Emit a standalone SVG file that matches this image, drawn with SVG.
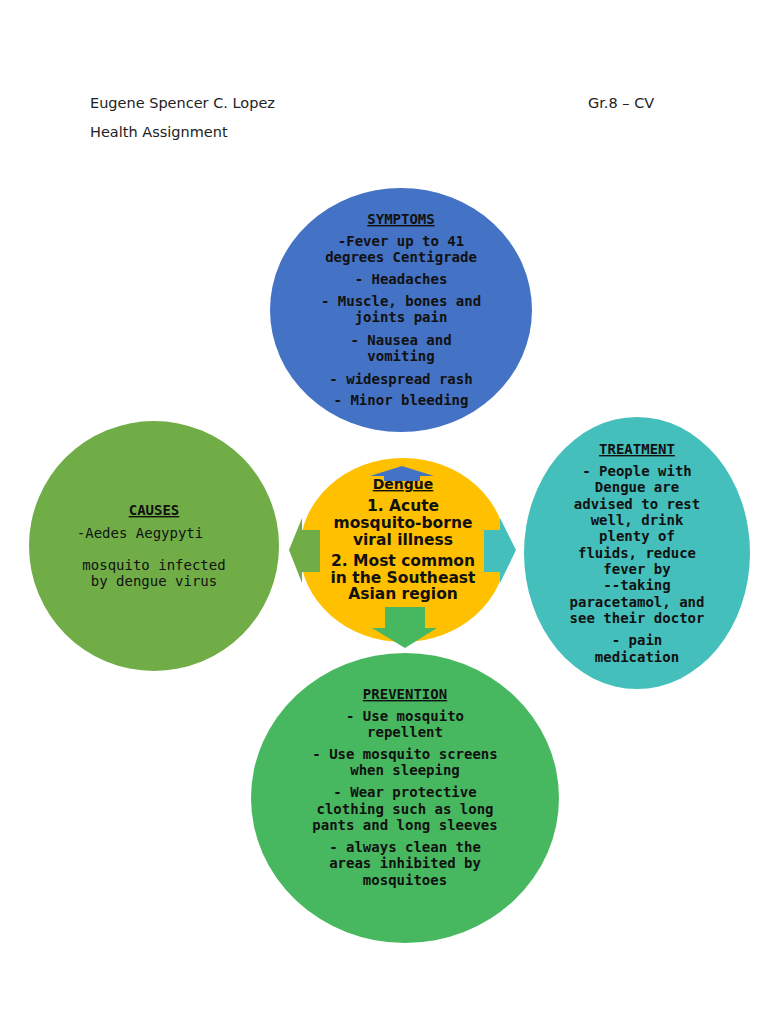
<svg xmlns="http://www.w3.org/2000/svg" width="768" height="1024" viewBox="0 0 768 1024">
<style>
.h{font-family:"DejaVu Sans",sans-serif;font-size:14.5px;fill:#222}
.m{font-family:"DejaVu Sans Mono",monospace;font-size:14px;font-weight:bold;fill:#111;text-anchor:middle}
.c{font-family:"DejaVu Sans",sans-serif;font-size:15.5px;font-weight:bold;fill:#111;text-anchor:middle}
.u{text-decoration:underline}
</style>
<rect width="768" height="1024" fill="#fff"/>
<text class="h" x="90" y="108">Eugene Spencer C. Lopez</text>
<text class="h" x="588" y="108">Gr.8 – CV</text>
<text class="h" x="90" y="137">Health Assignment</text>
<g id="symptoms">
<ellipse cx="401" cy="310" rx="131" ry="122" fill="#4472C4"/>
<text class="m u" x="401" y="224">SYMPTOMS</text>
<text class="m" x="401" y="246">-Fever up to 41</text>
<text class="m" x="401" y="262">degrees Centigrade</text>
<text class="m" x="401" y="284">- Headaches</text>
<text class="m" x="401" y="306">- Muscle, bones and</text>
<text class="m" x="401" y="322">joints  pain</text>
<text class="m" x="401" y="345">- Nausea and</text>
<text class="m" x="401" y="361">vomiting</text>
<text class="m" x="401" y="384">- widespread rash</text>
<text class="m" x="401" y="405">- Minor bleeding</text>
</g>
<g id="causes">
<circle cx="154" cy="546" r="125" fill="#70AD47"/>
<text class="m u" x="154" y="515">CAUSES</text>
<text class="m" x="140" y="538" style="font-weight:normal">-Aedes Aegypyti</text>
<text class="m" x="154" y="570" style="font-weight:normal">mosquito infected</text>
<text class="m" x="154" y="586" style="font-weight:normal">by dengue virus</text>
</g>
<g id="treatment">
<ellipse cx="637" cy="553" rx="113" ry="136" fill="#45BFBB"/>
<text class="m u" x="637" y="454">TREATMENT</text>
<text class="m" x="637" y="476">- People with</text>
<text class="m" x="637" y="492">Dengue are</text>
<text class="m" x="637" y="509">advised to rest</text>
<text class="m" x="637" y="525">well, drink</text>
<text class="m" x="637" y="541">plenty of</text>
<text class="m" x="637" y="558">fluids, reduce</text>
<text class="m" x="637" y="574">fever by</text>
<text class="m" x="637" y="590">--taking</text>
<text class="m" x="637" y="607">paracetamol, and</text>
<text class="m" x="637" y="623">see their doctor</text>
<text class="m" x="637" y="645">- pain</text>
<text class="m" x="637" y="662">medication</text>
</g>
<g id="prevention">
<ellipse cx="405" cy="798" rx="154" ry="145" fill="#48B860"/>
<text class="m u" x="405" y="699">PREVENTION</text>
<text class="m" x="405" y="721">- Use mosquito</text>
<text class="m" x="405" y="737">repellent</text>
<text class="m" x="405" y="759">- Use mosquito screens</text>
<text class="m" x="405" y="775">when sleeping</text>
<text class="m" x="405" y="797">- Wear protective</text>
<text class="m" x="405" y="814">clothing such as long</text>
<text class="m" x="405" y="830">pants and long sleeves</text>
<text class="m" x="405" y="852">- always clean the</text>
<text class="m" x="405" y="868">areas inhibited by</text>
<text class="m" x="405" y="885">mosquitoes</text>
</g>
<g id="dengue">
<ellipse cx="403" cy="550" rx="103" ry="92" fill="#FFC000"/>
</g>
<g id="connectors">
<polygon points="370,476 402,466 434,476 420,476 420,481 384,481 384,476" fill="#4472C4"/>
<polygon points="320,530 302,530 302,518 289,550 302,583 302,572 320,572" fill="#70AD47"/>
<polygon points="484,530 500,530 500,518 516,550 500,583 500,572 484,572" fill="#45BFBB"/>
<polygon points="385,607 425,607 425,628 437,628 405,648 372,628 385,628" fill="#48B860"/>
</g>
<g id="dengue-text">
<text class="c u" x="403" y="489" style="font-size:14px">Dengue</text>
<text class="c" x="403" y="511">1. Acute</text>
<text class="c" x="403" y="528">mosquito-borne</text>
<text class="c" x="403" y="545">viral illness</text>
<text class="c" x="403" y="566">2. Most common</text>
<text class="c" x="403" y="583">in the Southeast</text>
<text class="c" x="403" y="599">Asian region</text>
</g>
</svg>
